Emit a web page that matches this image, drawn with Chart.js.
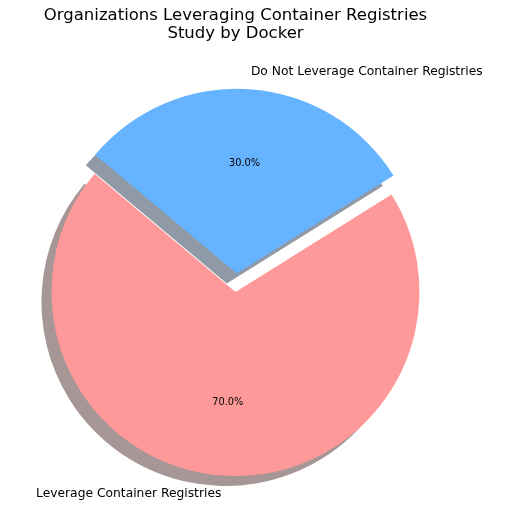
<!DOCTYPE html>
<html>
<head>
<meta charset="utf-8">
<script src="https://cdn.jsdelivr.net/npm/chart.js@4.4.1/dist/chart.umd.min.js"></script>
<style>
  html, body { margin: 0; padding: 0; background: #fff; }
  #chart { display: block; }
</style>
</head>
<body>
<canvas id="chart" width="512" height="512"></canvas>
<script>
const labels = ['Leverage Container Registries', 'Do Not Leverage Container Registries'];
const values = [70, 30];
const colors = ['#ff9999', '#66b3ff'];
const explode = [0, 0.1];
const titleLines = ['Organizations Leveraging Container Registries', 'Study by Docker'];

const RADIUS = 184;
const SHADOW_DX = -10, SHADOW_DY = 10;

// matplotlib-like shadow: face colour * 0.3 at half alpha
function shadeColor(hex) {
    const n = parseInt(hex.slice(1), 16);
    const r = (n >> 16) & 255, g = (n >> 8) & 255, b = n & 255;
    return `rgba(${Math.round(r * 0.3)}, ${Math.round(g * 0.3)}, ${Math.round(b * 0.3)}, 0.5)`;
}

// centre of an exploded wedge (Chart.js moves an arc by offset / 4)
function wedgeCentre(arc) {
    const mid = (arc.startAngle + arc.endAngle) / 2;
    const shift = (arc.options.offset || 0) / 4;
    return { x: arc.x + Math.cos(mid) * shift, y: arc.y + Math.sin(mid) * shift, mid };
}

const shadowPlugin = {
    id: 'pieShadow',
    beforeDatasetsDraw(chart) {
        const ctx = chart.ctx;
        const arcs = chart.getDatasetMeta(0).data;
        ctx.save();
        arcs.forEach((arc, i) => {
            const c = wedgeCentre(arc);
            const x = c.x + SHADOW_DX, y = c.y + SHADOW_DY;
            ctx.beginPath();
            ctx.moveTo(x, y);
            ctx.arc(x, y, arc.outerRadius, arc.startAngle, arc.endAngle);
            ctx.closePath();
            ctx.fillStyle = shadeColor(colors[i]);
            ctx.fill();
        });
        ctx.restore();
    }
};

const labelPlugin = {
    id: 'pieLabels',
    afterDatasetsDraw(chart) {
        const ctx = chart.ctx;
        const arcs = chart.getDatasetMeta(0).data;
        const total = values.reduce((a, b) => a + b, 0);
        ctx.save();
        ctx.fillStyle = '#000';
        ctx.textBaseline = 'middle';
        arcs.forEach((arc, i) => {
            const c = wedgeCentre(arc);
            const r = arc.outerRadius;
            const cos = Math.cos(c.mid), sin = Math.sin(c.mid);

            ctx.font = '12.3px "DejaVu Sans"';
            ctx.textAlign = cos > 0 ? 'left' : 'right';
            ctx.fillText(labels[i], c.x + cos * r * 1.1, c.y + sin * r * 1.1);

            ctx.font = '9.8px "DejaVu Sans"';
            ctx.textAlign = 'center';
            const pct = (values[i] / total * 100).toFixed(1) + '%';
            ctx.fillText(pct, c.x + cos * r * 0.6, c.y + sin * r * 0.6);
        });
        ctx.restore();
    }
};

new Chart(document.getElementById('chart'), {
    type: 'pie',
    data: {
        labels: labels,
        datasets: [{
            data: values,
            backgroundColor: colors,
            borderWidth: 0,
            offset: explode.map(e => e * RADIUS * 4)
        }]
    },
    options: {
        responsive: false,
        animation: false,
        events: [],
        rotation: 58,
        radius: RADIUS,
        layout: { padding: { left: 0, right: 41, top: 0, bottom: 0 } },
        plugins: {
            legend: { display: false },
            tooltip: { enabled: false },
            title: {
                display: true,
                text: titleLines,
                color: '#000',
                font: { family: 'DejaVu Sans', size: 16.5, weight: 'normal', lineHeight: 1.12 },
                padding: { top: 6, bottom: 29 }
            }
        }
    },
    plugins: [shadowPlugin, labelPlugin]
});
</script>
</body>
</html>
